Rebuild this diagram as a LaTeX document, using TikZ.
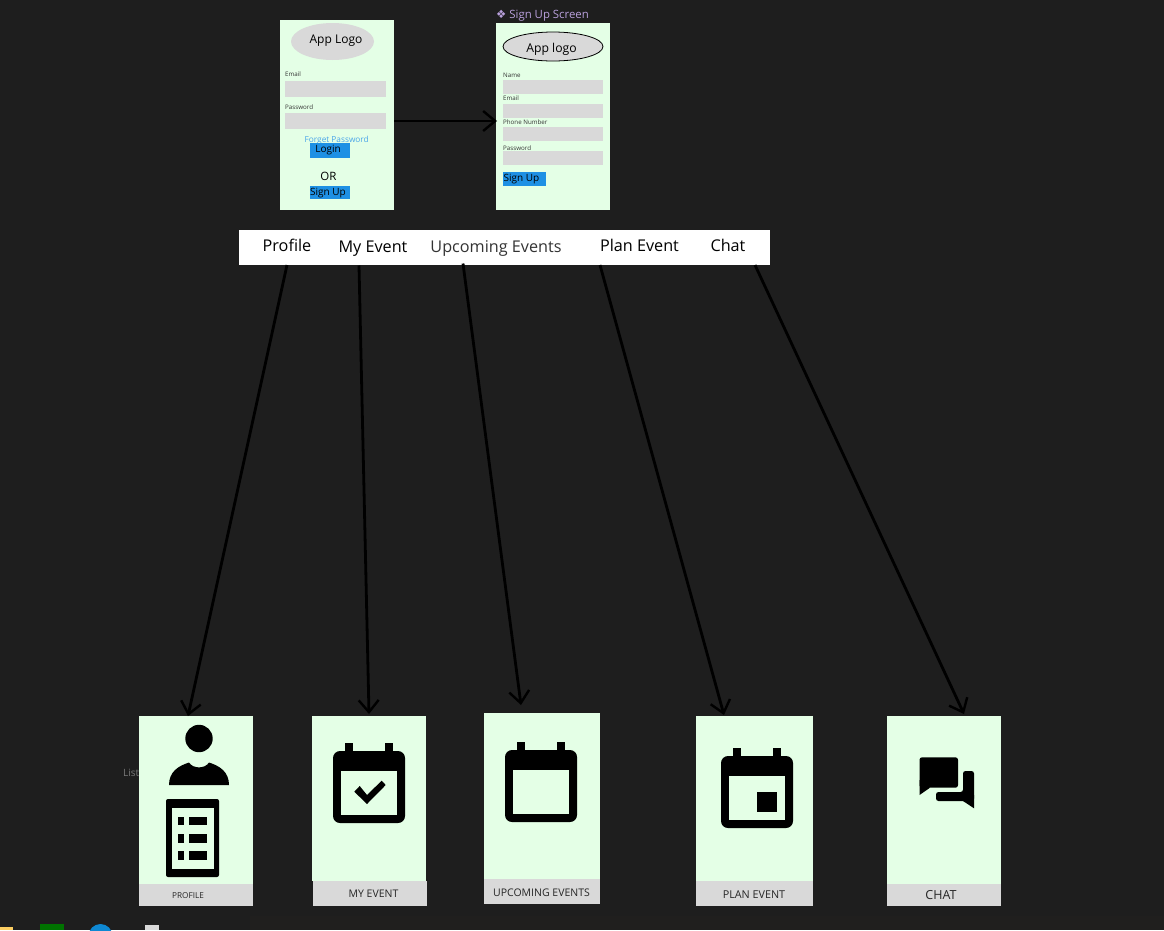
\documentclass[tikz,border=0pt]{standalone}
\usepackage{fontspec}
\setmainfont{Open Sans}
\newfontfamily\symfont{DejaVu Sans}
\usetikzlibrary{arrows.meta,shapes.geometric}
\definecolor{canvas}{HTML}{1E1E1E}
\definecolor{mint}{HTML}{E4FFE6}
\definecolor{field}{HTML}{D9D9D9}
\definecolor{btn}{HTML}{1E90E4}
\definecolor{lilac}{HTML}{B9A0DC}
\tikzset{
  screen/.style={fill=mint, draw=none, inner sep=0pt, outer sep=0pt, anchor=north west},
  bar/.style={fill=field, draw=none, inner sep=0pt, outer sep=0pt, anchor=north west},
  btnbox/.style={fill=btn, draw=none, inner sep=0pt, anchor=north west},
  tiny/.style={font=\fontsize{6.2}{7}\selectfont, text=black!80, inner sep=0pt, anchor=west},
  btntext/.style={font=\fontsize{10}{12}\selectfont, text=black, inner sep=0pt},
  menuitem/.style={font=\fontsize{16.2}{18}\selectfont, text=black, inner sep=0pt, outer sep=0pt, minimum height=35pt, text height=11pt, text depth=3pt},
  caption/.style={text=black!85, inner sep=0pt},
  flow/.style={line width=2.8pt, draw=black, -{Straight Barb[length=12pt,width=20pt,line width=2.4pt]}}
}
% calendar icon: x left, y top of the body
\newcommand{\calbody}[2]{
  \fill[black, rounded corners=7pt] (#1,#2) rectangle ++(72,72);
  \fill[black] (#1+12,#2-8) rectangle ++(8,10);
  \fill[black] (#1+52,#2-8) rectangle ++(8,10);
  \fill[mint] (#1+8,#2+20) rectangle ++(56,44);
}
\begin{document}
\begin{tikzpicture}[x=1pt,y=-1pt]
\useasboundingbox (0,0) rectangle (1164,930);
\clip (0,0) rectangle (1164,930);
\fill[canvas] (0,0) rectangle (1164,930);
% taskbar along the bottom edge
\fill[canvas!99!orange] (250,916) rectangle (1164,930);
\fill[yellow!40!orange!60!white] (0,927) rectangle (13,930);
\fill[green!45!black] (40,924) rectangle (64,930);
\fill[cyan!70!blue] (100.5,936) circle[radius=12];
\fill[black!15] (145,925) rectangle (159,930);

% login screen
\node[screen, minimum width=114pt, minimum height=190pt] (login) at (280,20) {};
\node[fill=field, ellipse, minimum width=83pt, minimum height=37pt, inner sep=0pt] (loginlogo) at (332.5,41.5) {};
\node[font=\fontsize{12}{14}\selectfont, inner sep=0pt] (loginlogotext) at (336,41) {App Logo};
\node[tiny] (loginemail) at (285,74) {Email};
\node[bar, minimum width=101pt, minimum height=16pt] (loginemailbox) at (285,81) {};
\node[tiny] (loginpass) at (285,107) {Password};
\node[bar, minimum width=101pt, minimum height=16pt] (loginpassbox) at (285,113) {};
\node[font=\fontsize{8.3}{10}\selectfont, text=btn!80!white, inner sep=0pt] (forget) at (336.7,140) {Forget Password};
\node[btnbox, minimum width=40pt, minimum height=15pt] (loginbtn) at (310,143) {};
\node[btntext] (loginbtntext) at (328,150.5) {Login};
\node[font=\fontsize{11.5}{14}\selectfont, inner sep=0pt] (ortext) at (328.5,176.5) {OR};
\node[btnbox, minimum width=40pt, minimum height=13pt] (regbtn) at (310,186) {};
\node[btntext] (regbtntext) at (328,193.5) {Sign Up};

% sign up screen
\node[text=lilac, font=\fontsize{11.4}{13}\selectfont, inner sep=0pt, anchor=west] (signuptitle) at (496,15.5) {{\symfont ❖} Sign Up Screen};
\node[screen, minimum width=114pt, minimum height=187pt] (signup) at (496,23) {};
\node[draw=black, fill=field, ellipse, minimum width=100pt, minimum height=29pt, inner sep=0pt, line width=.8pt] (signuplogo) at (553,46.5) {};
\node[font=\fontsize{12.2}{14}\selectfont, inner sep=0pt] (signuplogotext) at (551.5,49.5) {App logo};
\node[tiny] (signname) at (503,75) {Name};
\node[bar, minimum width=100pt, minimum height=14pt] (signnamebox) at (503,80) {};
\node[tiny] (signemail) at (503,98) {Email};
\node[bar, minimum width=100pt, minimum height=14pt] (signemailbox) at (503,104) {};
\node[tiny] (signphone) at (503,122) {Phone Number};
\node[bar, minimum width=100pt, minimum height=14pt] (signphonebox) at (503,127) {};
\node[tiny] (signpass) at (503,148) {Password};
\node[bar, minimum width=100pt, minimum height=14pt] (signpassbox) at (503,151) {};
\node[btnbox, minimum width=43pt, minimum height=14pt] (signbtn) at (503,172) {};
\node[btntext] (signbtntext) at (521.5,179.5) {Sign Up};
\draw[flow] ([yshift=-6pt]login.east) -- ([xshift=1pt,yshift=-4.5pt]signup.west);

% menu strip
\node[fill=white, minimum width=531pt, minimum height=35pt, inner sep=0pt, outer sep=0pt, anchor=north west] (menu) at (239,230) {};
\node[menuitem] (profile) at (287,247.5) {Profile};
\node[menuitem] (myevent) at (373,248) {My Event};
\node[menuitem, text=black!80] (upcoming) at (496,248) {Upcoming Events};
\node[menuitem] (planevent) at (639.5,247.5) {Plan Event};
\node[menuitem] (chat) at (728,247.5) {Chat};

% faded text behind the profile screen
\node[text=white!40!canvas, font=\fontsize{10}{12}\selectfont, inner sep=0pt, anchor=west] (listall) at (123,773) {List all};

% bottom screens
\node[screen, minimum width=114pt, minimum height=168pt] (profilescr) at (139,716) {};
\node[bar, minimum width=114pt, minimum height=22pt] (profilebar) at (139,884) {};
\node[caption, font=\fontsize{8.2}{9}\selectfont] (profilecap) at (188,895.5) {PROFILE};
\node[screen, minimum width=114pt, minimum height=165pt] (myeventscr) at (312,716) {};
\node[bar, minimum width=114pt, minimum height=25pt] (myeventbar) at (313,881) {};
\node[caption, font=\fontsize{10.5}{12}\selectfont] (myeventcap) at (373.5,894) {MY EVENT};
\node[screen, minimum width=116pt, minimum height=166pt] (upcomingscr) at (484,713) {};
\node[bar, minimum width=116pt, minimum height=25pt] (upcomingbar) at (484,879) {};
\node[caption, font=\fontsize{10.5}{12}\selectfont] (upcomingcap) at (541.5,893) {UPCOMING EVENTS};
\node[screen, minimum width=117pt, minimum height=165pt] (planscr) at (696,716) {};
\node[bar, minimum width=117pt, minimum height=25pt] (planbar) at (696,881) {};
\node[caption, font=\fontsize{10.8}{12}\selectfont] (plancap) at (754,895) {PLAN EVENT};
\node[screen, minimum width=114pt, minimum height=168pt] (chatscr) at (887,716) {};
\node[bar, minimum width=114pt, minimum height=22pt] (chatbar) at (887,884) {};
\node[caption, font=\fontsize{12.5}{14}\selectfont] (chatcap) at (941,895.5) {CHAT};

% person and list icons
\fill[black] (199,738.5) circle[radius=13.7];
\fill[black] (169,785) -- (229,785) .. controls (229,772) and (220,766) .. (209,762.5) .. controls (205,769) and (193,769) .. (189,762.5) .. controls (178,766) and (169,772) .. (169,785) -- cycle;
\fill[black, rounded corners=2pt] (166,799) rectangle (219,877);
\fill[mint] (172,807.5) rectangle (213.5,869);
\foreach \rowy in {816.5,834,851}{
  \fill[black] (177.7,\rowy) rectangle ++(6,8.7);
  \fill[black] (189.3,\rowy) rectangle ++(18,8.7);
}

% calendar icons
\calbody{333}{751}
\fill[black] (354.3,791.7) -- (359.7,786) -- (367,795) -- (381.7,780.7) -- (385.7,785) -- (367,804) -- cycle;
\calbody{505}{750}
\calbody{721}{756}
\fill[black] (757,792) rectangle (777,812);

% chat icon
\fill[black, rounded corners=2.5pt] (919.5,787.7) -- (919.5,757.3) -- (958,757.3) -- (958,787.7) -- cycle;
\fill[black] (919.5,795) -- (919.5,780) -- (930,787.7) -- cycle;
\fill[black, rounded corners=2.5pt] (963,771) -- (974,771) -- (974,801) -- (936,801) -- (936,792) -- (963,792) -- cycle;
\fill[black] (974,808.3) -- (974,795) -- (963,801) -- cycle;

% menu to screen arrows
\draw[flow] (profile.south) -- ([xshift=-8pt]profilescr.north);
\draw[flow] ([xshift=-14pt]myevent.south) -- ([yshift=2pt]myeventscr.north);
\draw[flow] ([xshift=-33pt,yshift=2pt]upcoming.south) -- ([xshift=-21pt,yshift=8pt]upcomingscr.north);
\draw[flow] ([xshift=-39.5pt]planevent.south) -- ([xshift=-30.5pt,yshift=1pt]planscr.north);
\draw[flow] ([xshift=27pt]chat.south) -- ([xshift=20pt,yshift=2pt]chatscr.north);
\end{tikzpicture}
\end{document}
